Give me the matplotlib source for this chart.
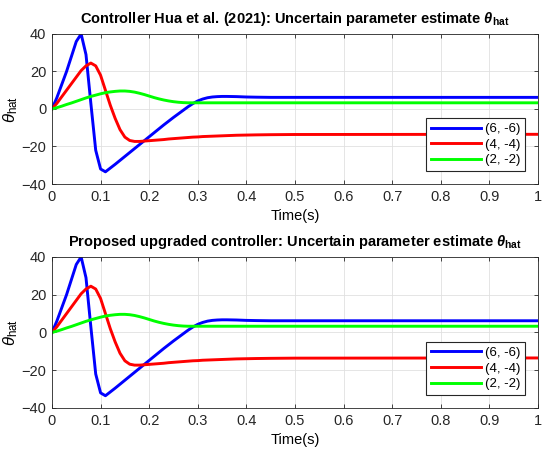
import matplotlib
matplotlib.use('Agg')
import matplotlib.pyplot as plt

plt.rcParams['font.family'] = ['Liberation Sans', 'DejaVu Sans']
plt.rcParams['mathtext.fontset'] = 'custom'
plt.rcParams['mathtext.rm'] = 'Liberation Sans'
plt.rcParams['mathtext.it'] = 'Liberation Sans:italic'
plt.rcParams['mathtext.bf'] = 'Liberation Sans:bold'
plt.rcParams['mathtext.bfit'] = 'Liberation Sans:bold:italic'

###################################################################################################

# time samples (s)
t = [0.00, 0.01, 0.02, 0.03, 0.04, 0.05, 0.06, 0.07, 0.08, 0.09,
     0.10, 0.11, 0.12, 0.13, 0.14, 0.15, 0.16, 0.17, 0.18, 0.19,
     0.20, 0.21, 0.22, 0.23, 0.24, 0.25, 0.26, 0.27, 0.28, 0.29,
     0.30, 0.31, 0.32, 0.33, 0.34, 0.35, 0.36, 0.38, 0.40, 0.42,
     0.45, 0.50, 1.00]

# theta_hat for gains (6,-6)
theta_6 = [0.0, 6.0, 13.0, 20.0, 28.0, 36.0, 40.0, 29.0, 3.0, -22.0,
           -32.0, -33.5, -31.5, -29.5, -27.4, -25.3, -23.2, -21.1, -19.0, -16.9,
           -14.8, -12.7, -10.6, -8.5, -6.5, -4.5, -2.6, -0.7, 1.2, 2.9,
           4.3, 5.3, 6.0, 6.4, 6.6, 6.7, 6.7, 6.6, 6.4, 6.3,
           6.2, 6.2, 6.2]

# theta_hat for gains (4,-4)
theta_4 = [0.0, 3.0, 6.5, 10.0, 13.5, 17.0, 20.5, 23.0, 24.5, 23.0,
           18.0, 10.0, 2.0, -5.0, -11.0, -15.0, -16.8, -17.3, -17.3, -17.1,
           -16.9, -16.7, -16.5, -16.3, -16.0, -15.8, -15.6, -15.4, -15.2, -15.0,
           -14.9, -14.7, -14.6, -14.5, -14.4, -14.3, -14.2, -14.0, -13.9, -13.8,
           -13.7, -13.6, -13.5]

# theta_hat for gains (2,-2)
theta_2 = [0.0, 0.7, 1.5, 2.4, 3.2, 4.1, 5.0, 5.9, 6.7, 7.4,
           8.1, 8.7, 9.1, 9.4, 9.6, 9.6, 9.4, 9.0, 8.4, 7.7,
           6.9, 6.1, 5.4, 4.8, 4.3, 3.9, 3.6, 3.4, 3.3, 3.3,
           3.3, 3.3, 3.3, 3.3, 3.3, 3.3, 3.3, 3.3, 3.3, 3.3,
           3.3, 3.3, 3.3]

series = [theta_6, theta_4, theta_2]
labels = ['(6, -6)', '(4, -4)', '(2, -2)']
colors = ['#0000ff', '#ff0000', '#00ff00']

titles = [r'Controller Hua et al. (2021): Uncertain parameter estimate $\mathbfit{\theta}_{\mathbf{hat}}$',
          r'Proposed upgraded controller: Uncertain parameter estimate $\mathbfit{\theta}_{\mathbf{hat}}$']

xticks = [0, 0.1, 0.2, 0.3, 0.4, 0.5, 0.6, 0.7, 0.8, 0.9, 1]
xticklabels = ['0', '0.1', '0.2', '0.3', '0.4', '0.5', '0.6', '0.7', '0.8', '0.9', '1']
yticks = [-40, -20, 0, 20, 40]

###################################################################################################

fig = plt.figure(figsize=(5.5, 4.55), dpi=100)
positions = [[0.0945, 0.5956, 0.8836, 0.3297],
             [0.0945, 0.1033, 0.8836, 0.3320]]

for pos, title in zip(positions, titles):
    ax = fig.add_axes(pos)
    for y, lab, c in zip(series, labels, colors):
        ax.plot(t, y, color=c, lw=2.1, label=lab)
    ax.set_xlim(0, 1)
    ax.set_ylim(-40, 40)
    ax.set_xticks(xticks)
    ax.set_xticklabels(xticklabels)
    ax.set_yticks(yticks)
    ax.tick_params(direction='in', top=True, right=True, labelsize=10.5,
                   length=3, width=0.6, colors='#262626', pad=4)
    for s in ax.spines.values():
        s.set_linewidth(0.6)
        s.set_color('#262626')
    ax.grid(True, color='#e0e0e0', lw=0.6)
    ax.set_axisbelow(True)
    ax.set_title(title, fontsize=10.5, fontweight='bold', pad=8)
    ax.set_xlabel('Time(s)', fontsize=10.5, labelpad=4)
    ax.set_ylabel(r'$\theta_{\mathrm{hat}}$', fontsize=12, labelpad=1)
    leg = ax.legend(loc='lower right', fontsize=9.5, handlelength=3.8,
                    fancybox=False, framealpha=1, edgecolor='#262626',
                    borderpad=0.35, labelspacing=0.25, handletextpad=0.3,
                    borderaxespad=1.0)
    leg.get_frame().set_linewidth(0.8)

fig.savefig('out.png', dpi=100)
